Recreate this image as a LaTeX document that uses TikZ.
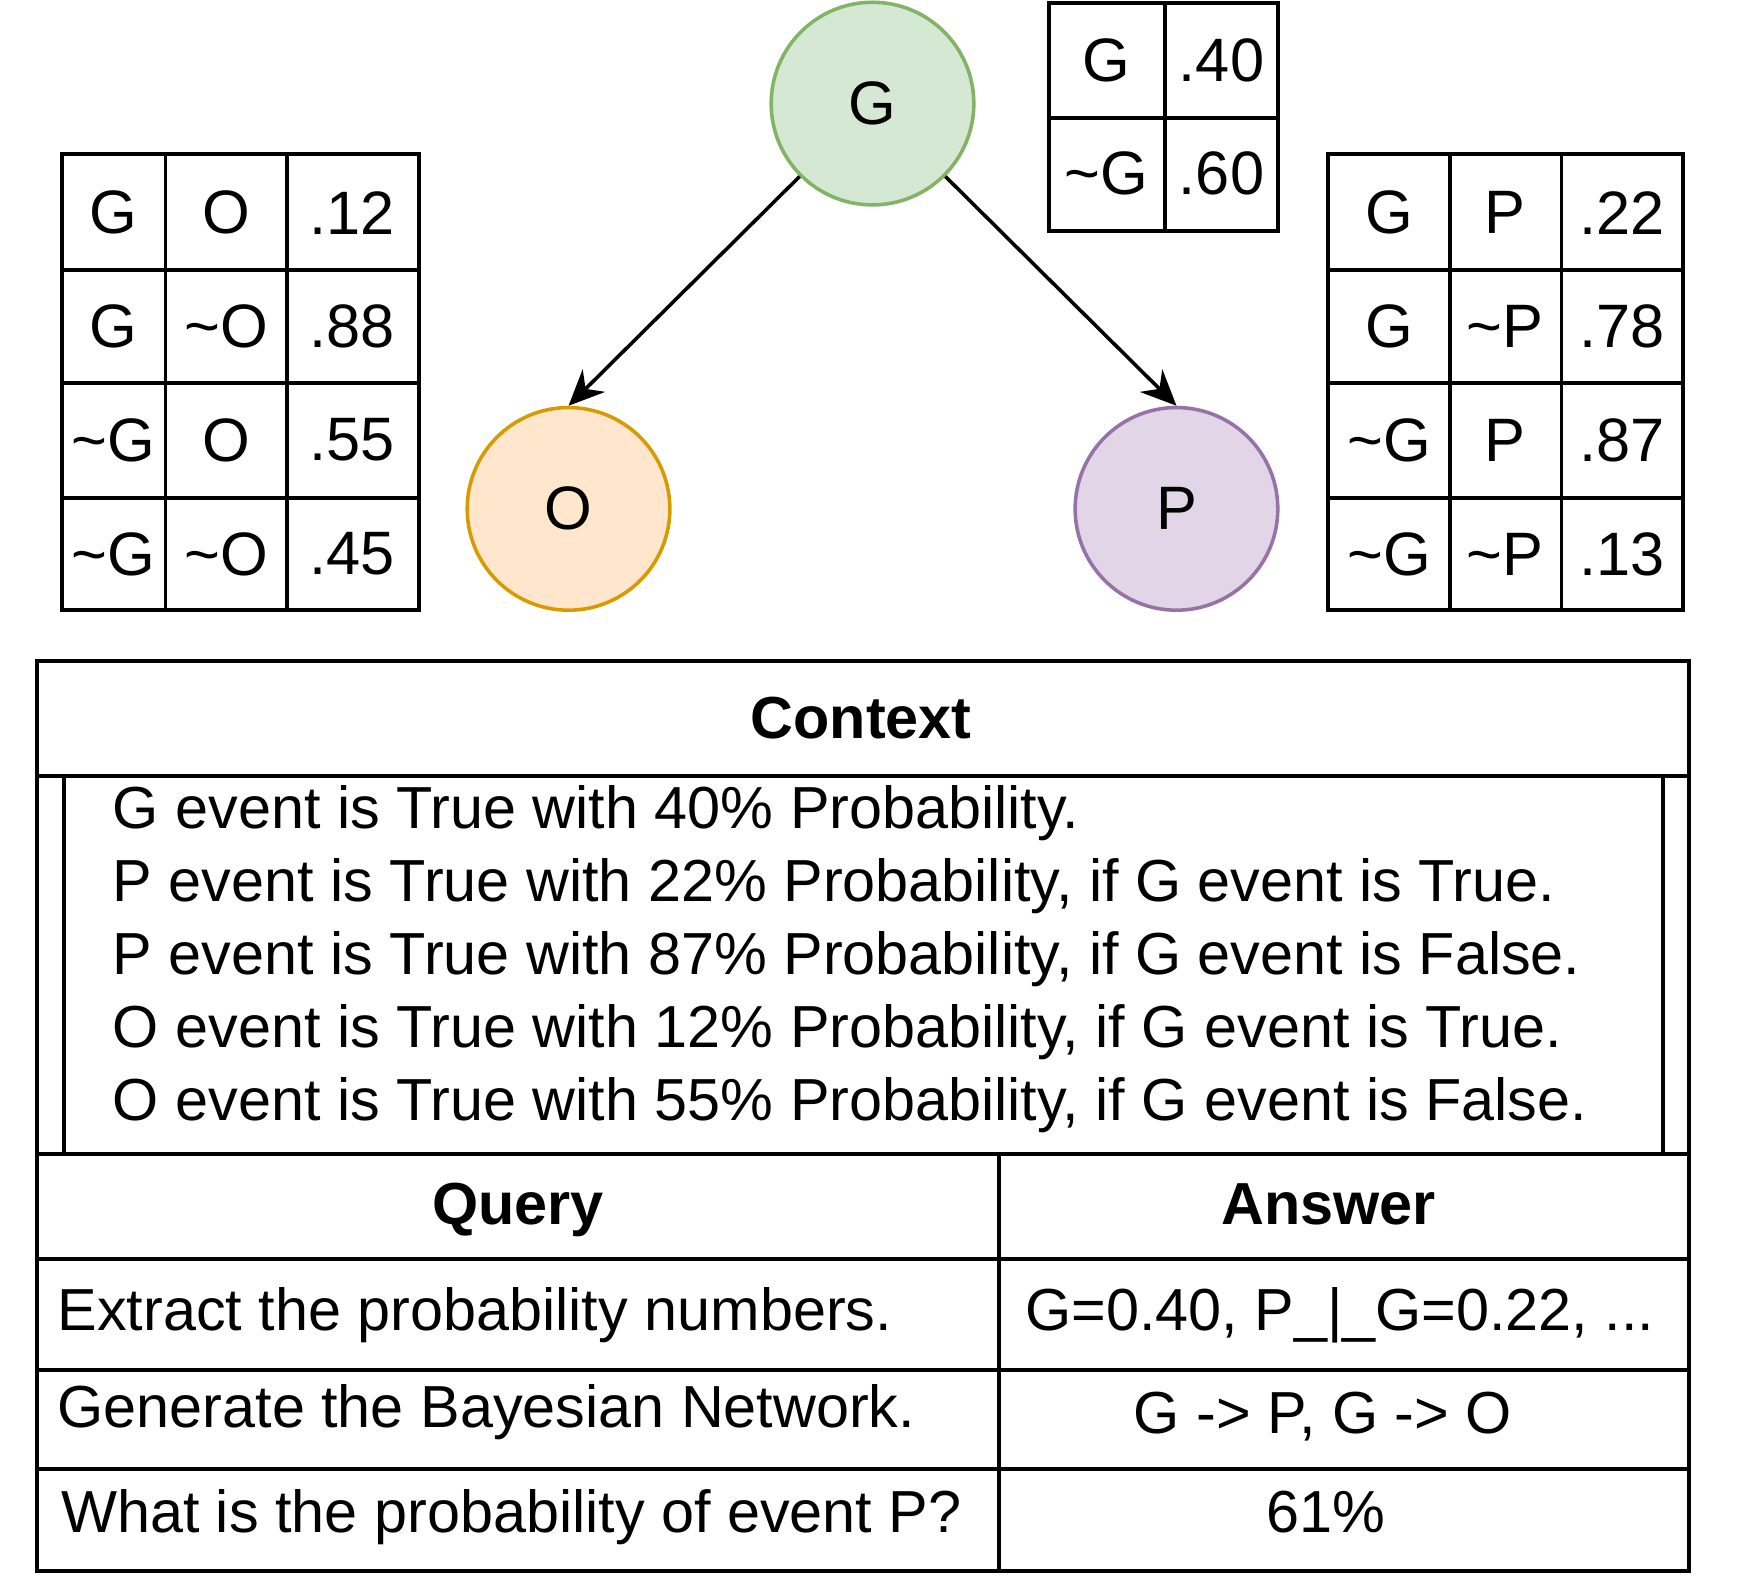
\documentclass[tikz,border=0pt]{standalone}
\usepackage{fontspec}
\setmainfont{Liberation Sans}
\usetikzlibrary{arrows.meta}
\begin{document}
\begin{tikzpicture}[x=0.02cm,y=-0.02cm,
  cell/.style={font=\fontsize{31}{36}\selectfont,anchor=center},
  txt/.style={font=\fontsize{30}{36}\selectfont},
  bn/.style={circle,minimum size=180*0.02cm,line width=1.8pt,font=\fontsize{31}{36}\selectfont},
  grid/.style={line width=2pt}]
\useasboundingbox (0,0) rectangle (1550,1404);
\node[bn,draw={rgb,255:red,130;green,179;blue,102},fill={rgb,255:red,213;green,232;blue,212}] (G) at (775,92) {G};
\node[bn,draw={rgb,255:red,215;green,155;blue,0},fill={rgb,255:red,255;green,230;blue,204}] (O) at (505,452) {O};
\node[bn,draw={rgb,255:red,150;green,115;blue,166},fill={rgb,255:red,225;green,213;blue,231}] (P) at (1045,452) {P};
\draw[line width=1.8pt,-{Stealth[length=18pt,width=16pt]}] (G.225) -- (O.90);
\draw[line width=1.8pt,-{Stealth[length=18pt,width=16pt]}] (G.315) -- (P.90);
% top table
\draw[grid] (932,3) rectangle (1135,205);
\draw[grid] (1035,3) -- (1035,205) (932,105) -- (1135,105);
\node[cell] (t1) at (983,54) {G}; \node[cell] (t2) at (1085,54) {.40};
\node[cell] (t3) at (983,154) {\textasciitilde G}; \node[cell] (t4) at (1085,154) {.60};
% left table
\draw[grid] (55,137) rectangle (372,542);
\draw[grid] (147,137) -- (147,542) (255,137) -- (255,542)
  (55,240) -- (372,240) (55,340) -- (372,340) (55,442) -- (372,442);
\foreach \a/\b/\c/\y in {G/O/.12/189, G/\textasciitilde O/.88/290, \textasciitilde G/O/.55/391, \textasciitilde G/\textasciitilde O/.45/492}{
  \node[cell] at (101,\y) {\a}; \node[cell] at (201,\y) {\b}; \node[cell] at (313,\y) {\c};}
% right table
\draw[grid] (1180,137) rectangle (1495,542);
\draw[grid] (1288,137) -- (1288,542) (1387,137) -- (1387,542)
  (1180,240) -- (1495,240) (1180,340) -- (1495,340) (1180,442) -- (1495,442);
\foreach \a/\b/\c/\y in {G/P/.22/189, G/\textasciitilde P/.78/290, \textasciitilde G/P/.87/391, \textasciitilde G/\textasciitilde P/.13/492}{
  \node[cell] at (1234,\y) {\a}; \node[cell] at (1337,\y) {\b}; \node[cell] at (1441,\y) {\c};}
% bottom table
\draw[grid] (33,587) rectangle (1500,1395);
\draw[grid] (33,689) -- (1500,689) (57,689) -- (57,1025) (1477,689) -- (1477,1025)
  (33,1025) -- (1500,1025) (887,1025) -- (887,1395)
  (33,1118) -- (1500,1118) (33,1217) -- (1500,1217) (33,1305) -- (1500,1305);
\node[txt,font=\fontsize{30}{36}\selectfont\bfseries] (ctx) at (765,638) {Context};
\node[txt,anchor=north west,align=left,inner sep=0pt,font=\fontsize{30}{37}\selectfont] (lines) at (100,697) {G event is True with 40\% Probability.\\
P event is True with 22\% Probability, if G event is True.\\
P event is True with 87\% Probability, if G event is False.\\
O event is True with 12\% Probability, if G event is True.\\
O event is True with 55\% Probability, if G event is False.};
\node[txt,font=\fontsize{30}{36}\selectfont\bfseries] (q) at (460,1075) {Query};
\node[txt,font=\fontsize{30}{36}\selectfont\bfseries] (a) at (1180,1070) {Answer};
\node[txt,anchor=west] (q1) at (45,1168) {Extract the probability numbers.};
\node[txt] (a1) at (1190,1168) {G=0.40, P\_|\_G=0.22, ...};
\node[txt,anchor=west] (q2) at (45,1254) {Generate the Bayesian Network.};
\node[txt] (a2) at (1175,1258) {G -> P, G -> O};
\node[txt,anchor=west] (q3) at (48,1348) {What is the probability of event P?};
\node[txt] (a3) at (1178,1343) {61\%};
\end{tikzpicture}
\end{document}
